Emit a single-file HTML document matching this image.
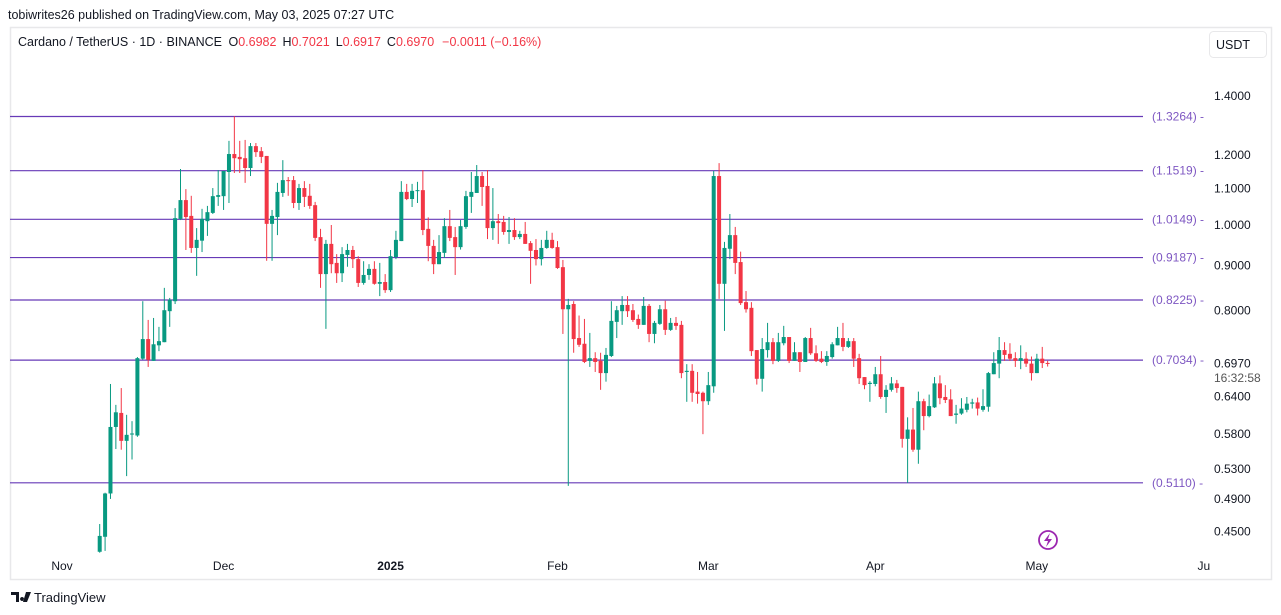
<!DOCTYPE html>
<html><head><meta charset="utf-8">
<style>
html,body{margin:0;padding:0;background:#fff;width:1281px;height:615px;overflow:hidden;font-family:"Liberation Sans",sans-serif;}
</style></head>
<body>
<svg id="chart" width="1281" height="615" xmlns="http://www.w3.org/2000/svg">
<text x="8" y="19" font-size="12.5" fill="#131722">tobiwrites26 published on TradingView.com, May 03, 2025 07:27 UTC</text>
<rect x="10.5" y="27.5" width="1261" height="552" fill="none" stroke="#e8e8ea" stroke-width="1.5"/>
<text x="18" y="46" font-size="12.5" fill="#131722">Cardano / TetherUS · 1D · BINANCE <tspan dx="3">O</tspan><tspan fill="#f23645">0.6982</tspan><tspan dx="6">H</tspan><tspan fill="#f23645">0.7021</tspan><tspan dx="6">L</tspan><tspan fill="#f23645">0.6917</tspan><tspan dx="6">C</tspan><tspan fill="#f23645">0.6970</tspan><tspan dx="8" fill="#f23645">−0.0011 (−0.16%)</tspan></text>
<rect x="1209.5" y="31.5" width="57" height="26" rx="4" fill="#fff" stroke="#e8e8ea"/>
<text x="1216" y="49" font-size="12.5" fill="#131722">USDT</text>
<g id="levels"></g>
<g id="candles"></g>
<g id="yaxis"></g>
<g id="xaxis"></g>
<text x="1214" y="382" font-size="12" fill="#555">16:32:58</text>
<g>
<circle cx="1048" cy="540" r="9" fill="none" stroke="#9c27b0" stroke-width="1.8"/>
<path d="M1050 533 L1044 541 L1048 541 L1046 547 L1052 539 L1048 539 Z" fill="#9c27b0"/>
</g>
<g>
<path d="M11 592 h8 v10 h-3 v-7 h-5 z M22 597 a2 2 0 1 0 0.1 0 z M26 592 h5 l-4 10 h-4 z" fill="#131722"/>
<text x="34" y="602" font-size="13" fill="#131722">TradingView</text>
</g>
</svg>
<script>
const opens=[.427,.444,.497,.591,.613,.570,.580,.578,.706,.743,.702,.731,.737,.799,.820,1.016,1.067,1.024,.942,.960,1.010,1.032,1.076,1.078,1.148,1.203,1.194,1.190,1.160,1.228,1.212,
1.197,1.003,1.021,1.087,1.124,1.124,1.059,1.101,1.079,1.053,.969,.880,.952,.906,.882,.925,.937,.915,.860,.878,.892,.858,.862,.844,.920,.959,1.090,1.070,1.093,1.095,.990,
.947,.903,.930,.997,.969,.944,.995,1.076,1.087,1.136,1.107,.992,1.010,1.008,.982,.987,.969,.977,.954,.937,.915,.942,.962,.944,.896,.803,.814,.745,.734,.702,
.707,.702,.680,.711,.777,.799,.812,.801,.783,.771,.810,.753,.773,.803,.761,.775,.771,.682,.684,.648,.646,.632,.657,1.136,.858,.940,.974,.908,.818,.806,.722,
.670,.722,.737,.702,.735,.747,.702,.718,.700,.745,.716,.706,.700,.709,.731,.745,.728,.739,.707,.673,.661,.661,.678,.639,.651,.662,.656,.573,.587,.557,.632,.608,.622,.662,.639,.635,.610,.612,.618,.628,.630,.618,.623,.678,.697,.722,.715,.707,.702,.706,.697,.680,.706,.6982];
const highs=[.459,.498,.661,.626,.654,.610,.600,.709,.820,.781,.785,.767,.849,.827,1.045,1.157,1.098,1.079,.992,1.043,1.051,1.101,1.154,1.151,1.245,1.328,1.245,1.248,1.238,1.238,1.225,
1.197,1.040,1.116,1.184,1.133,1.136,1.113,1.121,1.113,1.062,.990,.962,1.000,.927,.944,.952,.947,.922,.910,.903,.910,.906,.880,.937,.985,1.121,1.113,1.113,1.119,1.154,1.020,
.962,.974,1.018,1.040,.995,1.013,1.093,1.148,1.169,1.148,1.154,1.101,1.029,1.024,1.021,1.018,.985,1.008,.959,.964,.962,.985,.980,.959,.913,.825,.820,.790,.783,.755,
.718,.717,.726,.820,.810,.831,.831,.814,.792,.829,.814,.779,.812,.821,.785,.787,.779,.696,.696,.682,.648,.682,1.151,1.175,.957,1.029,.995,.933,.842,.818,.722,
.745,.775,.745,.755,.769,.747,.737,.718,.747,.765,.731,.720,.720,.737,.767,.775,.745,.745,.715,.673,.666,.691,.711,.659,.673,.668,.656,.606,.621,.648,.636,.643,.673,.676,.659,.652,.626,.637,.639,.636,.638,.652,.682,.718,.747,.737,.735,.718,.731,.718,.710,.715,.728,.7021];
const lows=[.426,.428,.490,.558,.557,.520,.543,.576,.704,.691,.702,.720,.737,.767,.814,1.013,.937,.930,.876,.932,.972,1.029,1.051,1.040,1.059,1.145,1.145,1.116,1.136,1.194,1.175,
.911,.911,.974,1.076,1.079,1.045,1.040,1.048,1.043,.959,.849,.763,.882,.860,.862,.897,.894,.851,.856,.867,.856,.831,.838,.840,.915,.959,1.067,1.048,1.059,.974,.91,
.880,.903,.918,.959,.878,.938,.990,1.032,1.087,1.051,.964,.962,.952,.975,.952,.962,.964,.952,.858,.900,.900,.940,.940,.892,.753,.507,.717,.728,.698,.691,
.682,.651,.665,.709,.745,.771,.787,.777,.763,.771,.737,.735,.771,.751,.759,.761,.671,.631,.631,.628,.580,.626,.646,.825,.759,.915,.880,.812,.796,.711,.660,
.648,.708,.696,.700,.731,.698,.702,.682,.700,.713,.700,.698,.693,.706,.731,.720,.726,.691,.661,.652,.631,.657,.636,.613,.648,.646,.560,.511,.554,.537,.586,.606,.621,.627,.629,.608,.596,.610,.614,.620,.609,.615,.615,.678,.671,.702,.702,.691,.687,.691,.667,.680,.689,.6917];
const closes=[.445,.497,.591,.614,.570,.579,.581,.707,.743,.704,.733,.739,.801,.823,1.018,1.067,1.021,.942,.962,1.016,1.034,1.078,1.081,1.151,1.203,1.190,1.187,1.160,1.228,1.209,1.194,
1.003,1.024,1.090,1.124,1.121,1.059,1.101,1.076,1.051,.967,.880,.952,.903,.882,.927,.937,.915,.860,.878,.892,.858,.862,.844,.922,.962,1.090,1.070,1.093,1.095,.987,.947,
.903,.932,.997,.967,.944,.997,1.078,1.090,1.136,1.104,.992,1.010,1.005,.982,.987,.969,.977,.952,.935,.915,.942,.962,.942,.894,.803,.812,.743,.732,.700,.707,
.700,.680,.713,.779,.801,.812,.799,.781,.771,.810,.753,.775,.803,.761,.775,.769,.680,.684,.646,.644,.632,.659,1.136,.858,.942,.974,.906,.816,.803,.720,.670,
.724,.737,.702,.737,.747,.702,.718,.700,.745,.716,.702,.700,.711,.733,.745,.728,.739,.706,.671,.659,.663,.678,.639,.651,.662,.654,.573,.587,.557,.632,.608,.624,.662,.637,.634,.608,.612,.620,.628,.630,.620,.624,.680,.698,.722,.713,.706,.702,.707,.697,.680,.706,.698,.6970];
const firstDay=7; // Nov 8 (day 0 = Nov 1)
const levels=[1.3264,1.1519,1.0149,0.9187,0.8225,0.7034,0.5110];
const yTicks=[1.4,1.2,1.1,1.0,0.9,0.8,0.64,0.58,0.53,0.49,0.45];
const lastPrice=0.6970;
const xLabels=["Nov","Dec","2025","Feb","Mar","Apr","May","Ju"];
const xLabelDays=[0,30,61,92,120,151,181,212];

const NS="http://www.w3.org/2000/svg";
function y(p){return 225-384*Math.log(p);}
function x(d){return 62+d*5.386;}
function mk(tag,attrs,parent){const e=document.createElementNS(NS,tag);for(const k in attrs)e.setAttribute(k,attrs[k]);parent.appendChild(e);return e;}
const gL=document.getElementById('levels'),gC=document.getElementById('candles'),gY=document.getElementById('yaxis'),gX=document.getElementById('xaxis');
levels.forEach(v=>{
  const ln=mk('line',{x1:10,x2:1143,y1:y(v),y2:y(v),stroke:'#673ab7','stroke-width':1.2},gL);
  
  
  const t=mk('text',{x:1152,y:y(v)+4,'font-size':12,fill:'#7e57c2'},gL);
  t.textContent='('+v.toFixed(4)+') -';
  
  
});
for(let i=0;i<closes.length;i++){
  const cx=x(firstDay+i),o=opens[i],c=closes[i],up=c>=o,col=up?'#089981':'#f23645';
  const g=mk('g',{},gC);
  
  
  mk('line',{x1:cx,x2:cx,y1:y(highs[i]),y2:y(lows[i]),stroke:col,'stroke-width':1},g);
  const t=y(Math.max(o,c)),b=y(Math.min(o,c));
  mk('rect',{x:cx-2,y:t,width:4,height:Math.max(1,b-t),fill:col},g);
}
yTicks.forEach(v=>{
  const t=mk('text',{x:1214,y:y(v)+4,'font-size':12,fill:'#131722'},gY);
  t.textContent=v.toFixed(4);
  
  
});
const lp=mk('text',{x:1214,y:y(lastPrice)+4,'font-size':12,fill:'#131722'},gY);
lp.textContent=lastPrice.toFixed(4);


xLabels.forEach((s,i)=>{
  const t=mk('text',{x:x(xLabelDays[i]),y:570,'font-size':12,fill:'#131722','text-anchor':'middle','font-weight':s==='2025'?'bold':'normal'},gX);
  t.textContent=s;
  
  
});
</script>
</body></html>
